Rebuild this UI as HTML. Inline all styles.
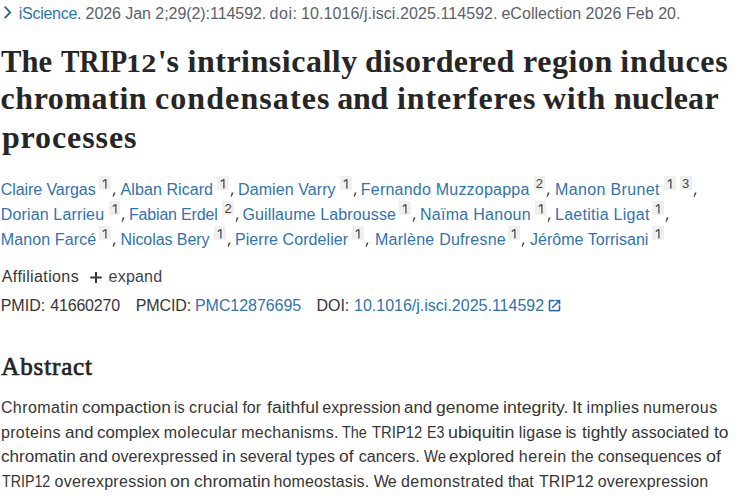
<!DOCTYPE html>
<html><head><meta charset="utf-8"><title>TRIP12 - PubMed</title>
<style>
html,body{margin:0;padding:0;background:#fff;}
body{width:750px;height:500px;overflow:hidden;position:relative;font-family:'Liberation Sans', sans-serif;color:#212121;}
.l{position:absolute;white-space:nowrap;}
.sup{position:absolute;width:11.7px;height:13.8px;background:#efefef;color:#444;font-size:13px;line-height:16.4px;text-align:center;font-family:'Liberation Sans', sans-serif;}
.cm{font-size:16px;color:#444;}
</style></head><body>
<div class="l" style="left:18.80px;top:1.75px;line-height:24px;color:#3073b1;font-family:'Liberation Sans', sans-serif;font-size:16px;letter-spacing:-0.275px;">iScience.</div>
<div class="l" style="left:85.60px;top:1.75px;line-height:24px;color:#5b616b;font-family:'Liberation Sans', sans-serif;font-size:16px;letter-spacing:-0.061px;">2026 Jan 2;29(2):114592.</div>
<div class="l" style="left:269.40px;top:1.75px;line-height:24px;color:#5b616b;font-family:'Liberation Sans', sans-serif;font-size:16px;letter-spacing:0.600px;">doi:</div>
<div class="l" style="left:301.00px;top:1.75px;line-height:24px;color:#5b616b;font-family:'Liberation Sans', sans-serif;font-size:16px;letter-spacing:0.077px;">10.1016/j.isci.2025.114592.</div>
<div class="l" style="left:501.40px;top:1.75px;line-height:24px;color:#5b616b;font-family:'Liberation Sans', sans-serif;font-size:16px;letter-spacing:0.052px;">eCollection 2026 Feb 20.</div>
<div class="l" style="left:1.10px;top:37.00px;line-height:48px;color:#262626;font-family:'Liberation Serif', serif;font-size:32px;font-weight:700;transform:scaleX(0.9566);transform-origin:0 0;">The</div>
<div class="l" style="left:61.00px;top:37.00px;line-height:48px;color:#262626;font-family:'Liberation Serif', serif;font-size:32px;font-weight:700;transform:scaleX(0.8645);transform-origin:0 0;">TRIP</div>
<div class="l" style="left:125.87px;top:43.53px;line-height:39px;color:#262626;font-family:'Liberation Serif', serif;font-size:26px;font-weight:700;transform:scaleX(1.1652);transform-origin:0 0;">12</div>
<div class="l" style="left:157.70px;top:37.00px;line-height:48px;color:#262626;font-family:'Liberation Serif', serif;font-size:32px;font-weight:700;">&#x27;s</div>
<div class="l" style="left:187.50px;top:37.00px;line-height:48px;color:#262626;font-family:'Liberation Serif', serif;font-size:32px;font-weight:700;letter-spacing:0.517px;">intrinsically</div>
<div class="l" style="left:365.00px;top:37.00px;line-height:48px;color:#262626;font-family:'Liberation Serif', serif;font-size:32px;font-weight:700;letter-spacing:0.267px;">disordered</div>
<div class="l" style="left:523.10px;top:37.00px;line-height:48px;color:#262626;font-family:'Liberation Serif', serif;font-size:32px;font-weight:700;letter-spacing:0.560px;">region</div>
<div class="l" style="left:620.30px;top:37.00px;line-height:48px;color:#262626;font-family:'Liberation Serif', serif;font-size:32px;font-weight:700;letter-spacing:0.700px;">induces</div>
<div class="l" style="left:0.60px;top:74.00px;line-height:48px;color:#262626;font-family:'Liberation Serif', serif;font-size:32px;font-weight:700;letter-spacing:0.550px;">chromatin</div>
<div class="l" style="left:155.00px;top:74.00px;line-height:48px;color:#262626;font-family:'Liberation Serif', serif;font-size:32px;font-weight:700;letter-spacing:1.080px;">condensates</div>
<div class="l" style="left:337.20px;top:74.00px;line-height:48px;color:#262626;font-family:'Liberation Serif', serif;font-size:32px;font-weight:700;letter-spacing:-0.300px;">and</div>
<div class="l" style="left:397.00px;top:74.00px;line-height:48px;color:#262626;font-family:'Liberation Serif', serif;font-size:32px;font-weight:700;letter-spacing:0.844px;">interferes</div>
<div class="l" style="left:543.00px;top:74.00px;line-height:48px;color:#262626;font-family:'Liberation Serif', serif;font-size:32px;font-weight:700;letter-spacing:0.600px;">with</div>
<div class="l" style="left:613.90px;top:74.00px;line-height:48px;color:#262626;font-family:'Liberation Serif', serif;font-size:32px;font-weight:700;letter-spacing:0.267px;">nuclear</div>
<div class="l" style="left:1.90px;top:112.80px;line-height:48px;color:#262626;font-family:'Liberation Serif', serif;font-size:32px;font-weight:700;letter-spacing:0.900px;">processes</div>
<div class="l" style="left:0.70px;top:177.65px;line-height:24px;color:#3073b1;font-family:'Liberation Sans', sans-serif;font-size:16px;letter-spacing:-0.067px;">Claire Vargas</div>
<div class="l" style="left:120.60px;top:177.65px;line-height:24px;color:#3073b1;font-family:'Liberation Sans', sans-serif;font-size:16px;letter-spacing:0.073px;">Alban Ricard</div>
<div class="l" style="left:238.00px;top:177.65px;line-height:24px;color:#3073b1;font-family:'Liberation Sans', sans-serif;font-size:16px;letter-spacing:0.091px;">Damien Varry</div>
<div class="l" style="left:360.80px;top:177.65px;line-height:24px;color:#3073b1;font-family:'Liberation Sans', sans-serif;font-size:16px;letter-spacing:0.222px;">Fernando Muzzopappa</div>
<div class="l" style="left:555.00px;top:177.65px;line-height:24px;color:#3073b1;font-family:'Liberation Sans', sans-serif;font-size:16px;letter-spacing:0.364px;">Manon Brunet</div>
<div class="l" style="left:0.70px;top:202.55px;line-height:24px;color:#3073b1;font-family:'Liberation Sans', sans-serif;font-size:16px;letter-spacing:0.154px;">Dorian Larrieu</div>
<div class="l" style="left:129.00px;top:202.55px;line-height:24px;color:#3073b1;font-family:'Liberation Sans', sans-serif;font-size:16px;letter-spacing:-0.182px;">Fabian Erdel</div>
<div class="l" style="left:242.40px;top:202.55px;line-height:24px;color:#3073b1;font-family:'Liberation Sans', sans-serif;font-size:16px;letter-spacing:0.133px;">Guillaume Labrousse</div>
<div class="l" style="left:420.00px;top:202.55px;line-height:24px;color:#3073b1;font-family:'Liberation Sans', sans-serif;font-size:16px;letter-spacing:0.273px;">Naïma Hanoun</div>
<div class="l" style="left:555.00px;top:202.55px;line-height:24px;color:#3073b1;font-family:'Liberation Sans', sans-serif;font-size:16px;letter-spacing:0.277px;">Laetitia Ligat</div>
<div class="l" style="left:0.70px;top:227.55px;line-height:24px;color:#3073b1;font-family:'Liberation Sans', sans-serif;font-size:16px;letter-spacing:0.120px;">Manon Farcé</div>
<div class="l" style="left:120.40px;top:227.55px;line-height:24px;color:#3073b1;font-family:'Liberation Sans', sans-serif;font-size:16px;letter-spacing:-0.055px;">Nicolas Bery</div>
<div class="l" style="left:235.00px;top:227.55px;line-height:24px;color:#3073b1;font-family:'Liberation Sans', sans-serif;font-size:16px;letter-spacing:0.067px;">Pierre Cordelier</div>
<div class="l" style="left:375.00px;top:227.55px;line-height:24px;color:#3073b1;font-family:'Liberation Sans', sans-serif;font-size:16px;letter-spacing:0.240px;">Marlène Dufresne</div>
<div class="l" style="left:530.00px;top:227.55px;line-height:24px;color:#3073b1;font-family:'Liberation Sans', sans-serif;font-size:16px;letter-spacing:0.027px;">Jérôme Torrisani</div>
<div class="l" style="left:1.80px;top:264.85px;line-height:24px;color:#363636;font-family:'Liberation Sans', sans-serif;font-size:16px;letter-spacing:0.382px;">Affiliations</div>
<div class="l" style="left:108.60px;top:264.85px;line-height:24px;color:#3d4551;font-family:'Liberation Sans', sans-serif;font-size:16px;letter-spacing:0.200px;">expand</div>
<div class="l" style="left:0.70px;top:294.05px;line-height:24px;color:#363636;font-family:'Liberation Sans', sans-serif;font-size:16px;">PMID:</div>
<div class="l" style="left:50.30px;top:294.05px;line-height:24px;color:#363636;font-family:'Liberation Sans', sans-serif;font-size:16px;letter-spacing:-0.200px;">41660270</div>
<div class="l" style="left:135.70px;top:294.05px;line-height:24px;color:#363636;font-family:'Liberation Sans', sans-serif;font-size:16px;letter-spacing:-0.080px;">PMCID:</div>
<div class="l" style="left:195.00px;top:294.05px;line-height:24px;color:#3073b1;font-family:'Liberation Sans', sans-serif;font-size:16px;letter-spacing:-0.060px;">PMC12876695</div>
<div class="l" style="left:316.60px;top:294.05px;line-height:24px;color:#363636;font-family:'Liberation Sans', sans-serif;font-size:16px;letter-spacing:-0.067px;">DOI:</div>
<div class="l" style="left:354.00px;top:294.05px;line-height:24px;color:#3073b1;font-family:'Liberation Sans', sans-serif;font-size:16px;">10.1016/j.isci.2025.114592</div>
<div class="l" style="left:1.30px;top:347.56px;line-height:38px;color:#262626;font-family:'Liberation Serif', serif;font-size:25px;letter-spacing:0.857px;-webkit-text-stroke:0.7px #212121;">Abstract</div>
<div class="l" style="left:0.90px;top:395.75px;line-height:24px;color:#363636;font-family:'Liberation Sans', sans-serif;font-size:16px;letter-spacing:0.425px;">Chromatin</div>
<div class="l" style="left:81.61px;top:395.75px;line-height:24px;color:#363636;font-family:'Liberation Sans', sans-serif;font-size:16px;transform:scaleX(1.0862);transform-origin:0 0;">compaction</div>
<div class="l" style="left:174.28px;top:395.75px;line-height:24px;color:#363636;font-family:'Liberation Sans', sans-serif;font-size:16px;transform:scaleX(0.9200);transform-origin:0 0;">is</div>
<div class="l" style="left:189.00px;top:395.75px;line-height:24px;color:#363636;font-family:'Liberation Sans', sans-serif;font-size:16px;letter-spacing:0.467px;">crucial</div>
<div class="l" style="left:242.50px;top:395.75px;line-height:24px;color:#363636;font-family:'Liberation Sans', sans-serif;font-size:16px;letter-spacing:-0.100px;">for</div>
<div class="l" style="left:267.00px;top:395.75px;line-height:24px;color:#363636;font-family:'Liberation Sans', sans-serif;font-size:16px;transform:scaleX(1.1000);transform-origin:0 0;">faithful</div>
<div class="l" style="left:322.20px;top:395.75px;line-height:24px;color:#363636;font-family:'Liberation Sans', sans-serif;font-size:16px;letter-spacing:0.133px;">expression</div>
<div class="l" style="left:404.34px;top:395.75px;line-height:24px;color:#363636;font-family:'Liberation Sans', sans-serif;font-size:16px;transform:scaleX(1.0560);transform-origin:0 0;">and</div>
<div class="l" style="left:436.31px;top:395.75px;line-height:24px;color:#363636;font-family:'Liberation Sans', sans-serif;font-size:16px;transform:scaleX(1.0929);transform-origin:0 0;">genome</div>
<div class="l" style="left:503.09px;top:395.75px;line-height:24px;color:#363636;font-family:'Liberation Sans', sans-serif;font-size:16px;transform:scaleX(1.1053);transform-origin:0 0;">integrity.</div>
<div class="l" style="left:571.66px;top:395.75px;line-height:24px;color:#363636;font-family:'Liberation Sans', sans-serif;font-size:16px;transform:scaleX(1.1375);transform-origin:0 0;">It</div>
<div class="l" style="left:586.50px;top:395.75px;line-height:24px;color:#363636;font-family:'Liberation Sans', sans-serif;font-size:16px;letter-spacing:0.467px;">implies</div>
<div class="l" style="left:643.00px;top:395.75px;line-height:24px;color:#363636;font-family:'Liberation Sans', sans-serif;font-size:16px;letter-spacing:0.429px;">numerous</div>
<div class="l" style="left:0.90px;top:420.55px;line-height:24px;color:#363636;font-family:'Liberation Sans', sans-serif;font-size:16px;letter-spacing:0.371px;">proteins</div>
<div class="l" style="left:64.73px;top:420.55px;line-height:24px;color:#363636;font-family:'Liberation Sans', sans-serif;font-size:16px;transform:scaleX(1.0680);transform-origin:0 0;">and</div>
<div class="l" style="left:97.05px;top:420.55px;line-height:24px;color:#363636;font-family:'Liberation Sans', sans-serif;font-size:16px;transform:scaleX(1.0534);transform-origin:0 0;">complex</div>
<div class="l" style="left:163.80px;top:420.55px;line-height:24px;color:#363636;font-family:'Liberation Sans', sans-serif;font-size:16px;letter-spacing:0.450px;">molecular</div>
<div class="l" style="left:241.20px;top:420.55px;line-height:24px;color:#363636;font-family:'Liberation Sans', sans-serif;font-size:16px;letter-spacing:0.300px;">mechanisms.</div>
<div class="l" style="left:342.30px;top:420.55px;line-height:24px;color:#363636;font-family:'Liberation Sans', sans-serif;font-size:16px;transform:scaleX(0.9037);transform-origin:0 0;">The</div>
<div class="l" style="left:372.30px;top:420.55px;line-height:24px;color:#363636;font-family:'Liberation Sans', sans-serif;font-size:16px;transform:scaleX(0.9278);transform-origin:0 0;">TRIP12</div>
<div class="l" style="left:427.11px;top:420.55px;line-height:24px;color:#363636;font-family:'Liberation Sans', sans-serif;font-size:16px;transform:scaleX(0.8889);transform-origin:0 0;">E3</div>
<div class="l" style="left:448.49px;top:420.55px;line-height:24px;color:#363636;font-family:'Liberation Sans', sans-serif;font-size:16px;transform:scaleX(1.1138);transform-origin:0 0;">ubiquitin</div>
<div class="l" style="left:518.80px;top:420.55px;line-height:24px;color:#363636;font-family:'Liberation Sans', sans-serif;font-size:16px;letter-spacing:0.200px;">ligase</div>
<div class="l" style="left:565.40px;top:420.55px;line-height:24px;color:#363636;font-family:'Liberation Sans', sans-serif;font-size:16px;letter-spacing:-0.800px;">is</div>
<div class="l" style="left:581.60px;top:420.55px;line-height:24px;color:#363636;font-family:'Liberation Sans', sans-serif;font-size:16px;transform:scaleX(1.0810);transform-origin:0 0;">tightly</div>
<div class="l" style="left:631.60px;top:420.55px;line-height:24px;color:#363636;font-family:'Liberation Sans', sans-serif;font-size:16px;letter-spacing:0.111px;">associated</div>
<div class="l" style="left:714.20px;top:420.55px;line-height:24px;color:#363636;font-family:'Liberation Sans', sans-serif;font-size:16px;transform:scaleX(1.0846);transform-origin:0 0;">to</div>
<div class="l" style="left:0.84px;top:445.35px;line-height:24px;color:#363636;font-family:'Liberation Sans', sans-serif;font-size:16px;transform:scaleX(1.0647);transform-origin:0 0;">chromatin</div>
<div class="l" style="left:78.82px;top:445.35px;line-height:24px;color:#363636;font-family:'Liberation Sans', sans-serif;font-size:16px;transform:scaleX(1.0760);transform-origin:0 0;">and</div>
<div class="l" style="left:111.40px;top:445.35px;line-height:24px;color:#363636;font-family:'Liberation Sans', sans-serif;font-size:16px;letter-spacing:0.133px;">overexpressed</div>
<div class="l" style="left:221.68px;top:445.35px;line-height:24px;color:#363636;font-family:'Liberation Sans', sans-serif;font-size:16px;transform:scaleX(1.1182);transform-origin:0 0;">in</div>
<div class="l" style="left:239.70px;top:445.35px;line-height:24px;color:#363636;font-family:'Liberation Sans', sans-serif;font-size:16px;letter-spacing:0.100px;">several</div>
<div class="l" style="left:296.10px;top:445.35px;line-height:24px;color:#363636;font-family:'Liberation Sans', sans-serif;font-size:16px;letter-spacing:0.150px;">types</div>
<div class="l" style="left:338.92px;top:445.35px;line-height:24px;color:#363636;font-family:'Liberation Sans', sans-serif;font-size:16px;transform:scaleX(1.0846);transform-origin:0 0;">of</div>
<div class="l" style="left:358.70px;top:445.35px;line-height:24px;color:#363636;font-family:'Liberation Sans', sans-serif;font-size:16px;letter-spacing:0.086px;">cancers.</div>
<div class="l" style="left:423.60px;top:445.35px;line-height:24px;color:#363636;font-family:'Liberation Sans', sans-serif;font-size:16px;transform:scaleX(0.9261);transform-origin:0 0;">We</div>
<div class="l" style="left:449.44px;top:445.35px;line-height:24px;color:#363636;font-family:'Liberation Sans', sans-serif;font-size:16px;transform:scaleX(1.0617);transform-origin:0 0;">explored</div>
<div class="l" style="left:518.80px;top:445.35px;line-height:24px;color:#363636;font-family:'Liberation Sans', sans-serif;font-size:16px;letter-spacing:0.600px;">herein</div>
<div class="l" style="left:570.90px;top:445.35px;line-height:24px;color:#363636;font-family:'Liberation Sans', sans-serif;font-size:16px;letter-spacing:0.300px;">the</div>
<div class="l" style="left:597.80px;top:445.35px;line-height:24px;color:#363636;font-family:'Liberation Sans', sans-serif;font-size:16px;letter-spacing:0.055px;">consequences</div>
<div class="l" style="left:705.58px;top:445.35px;line-height:24px;color:#363636;font-family:'Liberation Sans', sans-serif;font-size:16px;transform:scaleX(1.1154);transform-origin:0 0;">of</div>
<div class="l" style="left:1.90px;top:470.45px;line-height:24px;color:#363636;font-family:'Liberation Sans', sans-serif;font-size:16px;transform:scaleX(0.8889);transform-origin:0 0;">TRIP12</div>
<div class="l" style="left:54.50px;top:470.45px;line-height:24px;color:#363636;font-family:'Liberation Sans', sans-serif;font-size:16px;letter-spacing:0.277px;">overexpression</div>
<div class="l" style="left:170.28px;top:470.45px;line-height:24px;color:#363636;font-family:'Liberation Sans', sans-serif;font-size:16px;transform:scaleX(1.1188);transform-origin:0 0;">on</div>
<div class="l" style="left:193.81px;top:470.45px;line-height:24px;color:#363636;font-family:'Liberation Sans', sans-serif;font-size:16px;transform:scaleX(1.0882);transform-origin:0 0;">chromatin</div>
<div class="l" style="left:273.50px;top:470.45px;line-height:24px;color:#363636;font-family:'Liberation Sans', sans-serif;font-size:16px;letter-spacing:0.127px;">homeostasis.</div>
<div class="l" style="left:373.80px;top:470.45px;line-height:24px;color:#363636;font-family:'Liberation Sans', sans-serif;font-size:16px;letter-spacing:-0.800px;">We</div>
<div class="l" style="left:401.00px;top:470.45px;line-height:24px;color:#363636;font-family:'Liberation Sans', sans-serif;font-size:16px;letter-spacing:0.418px;">demonstrated</div>
<div class="l" style="left:507.90px;top:470.45px;line-height:24px;color:#363636;font-family:'Liberation Sans', sans-serif;font-size:16px;letter-spacing:-0.333px;">that</div>
<div class="l" style="left:539.00px;top:470.45px;line-height:24px;color:#363636;font-family:'Liberation Sans', sans-serif;font-size:16px;letter-spacing:0.080px;">TRIP12</div>
<div class="l" style="left:597.80px;top:470.45px;line-height:24px;color:#363636;font-family:'Liberation Sans', sans-serif;font-size:16px;letter-spacing:0.138px;">overexpression</div>
<div class="l" style="left:0.80px;top:495.45px;line-height:24px;color:#363636;font-family:'Liberation Sans', sans-serif;font-size:16px;letter-spacing:0.330px;">leads to a global chromatin compaction that is dependent on its intrinsically disordered region.</div>
<svg style="position:absolute;left:0;top:0" width="20" height="26" viewBox="0 0 20 26"><polyline points="4.7,6.7 10.2,12.4 4.7,18.1" fill="none" stroke="#235f9c" stroke-width="1.8"/></svg>
<svg style="position:absolute;left:90.3px;top:272px" width="12" height="11" viewBox="0 0 12 11"><path d="M0.3 5.5H11.7M6 0V11" stroke="#3a3a3a" stroke-width="2" fill="none"/></svg>
<svg style="position:absolute;left:547.2px;top:298px" width="15" height="15" viewBox="0 0 24 24"><path fill="#2767a8" stroke="#2767a8" stroke-width="0.5" d="M19 19H5V5h7V3H5c-1.11 0-2 .9-2 2v14c0 1.1.89 2 2 2h14c1.1 0 2-.9 2-2v-7h-2v7zM14 3v2h3.59l-9.83 9.83 1.41 1.41L19 6.41V10h2V3h-7z"/></svg>
<div class="sup" style="left:99.2px;top:176.2px"><svg width="11.7" height="13.8" viewBox="0 0 11.7 13.8" style="display:block"><path d="M6.9 3.2V12.4M6.7 3.5L3.8 5.6" stroke="#444" stroke-width="1.25" fill="none"/></svg></div>
<svg style="position:absolute;left:111.9px;top:192.1px" width="5" height="6" viewBox="0 0 5 6"><polygon points="1.7,0.5 3.6,0.5 1.7,4.7 0.6,4.7" fill="#4a4a4a"/></svg>
<div class="sup" style="left:217.0px;top:176.2px"><svg width="11.7" height="13.8" viewBox="0 0 11.7 13.8" style="display:block"><path d="M6.9 3.2V12.4M6.7 3.5L3.8 5.6" stroke="#444" stroke-width="1.25" fill="none"/></svg></div>
<svg style="position:absolute;left:229.7px;top:192.1px" width="5" height="6" viewBox="0 0 5 6"><polygon points="1.7,0.5 3.6,0.5 1.7,4.7 0.6,4.7" fill="#4a4a4a"/></svg>
<div class="sup" style="left:340.0px;top:176.2px"><svg width="11.7" height="13.8" viewBox="0 0 11.7 13.8" style="display:block"><path d="M6.9 3.2V12.4M6.7 3.5L3.8 5.6" stroke="#444" stroke-width="1.25" fill="none"/></svg></div>
<svg style="position:absolute;left:352.7px;top:192.1px" width="5" height="6" viewBox="0 0 5 6"><polygon points="1.7,0.5 3.6,0.5 1.7,4.7 0.6,4.7" fill="#4a4a4a"/></svg>
<div class="sup" style="left:533.5px;top:176.2px">2</div>
<svg style="position:absolute;left:546.2px;top:192.1px" width="5" height="6" viewBox="0 0 5 6"><polygon points="1.7,0.5 3.6,0.5 1.7,4.7 0.6,4.7" fill="#4a4a4a"/></svg>
<div class="sup" style="left:664.0px;top:176.2px"><svg width="11.7" height="13.8" viewBox="0 0 11.7 13.8" style="display:block"><path d="M6.9 3.2V12.4M6.7 3.5L3.8 5.6" stroke="#444" stroke-width="1.25" fill="none"/></svg></div>
<div class="sup" style="left:679.9px;top:176.2px">3</div>
<svg style="position:absolute;left:692.6px;top:192.1px" width="5" height="6" viewBox="0 0 5 6"><polygon points="1.7,0.5 3.6,0.5 1.7,4.7 0.6,4.7" fill="#4a4a4a"/></svg>
<div class="sup" style="left:108.5px;top:201.1px"><svg width="11.7" height="13.8" viewBox="0 0 11.7 13.8" style="display:block"><path d="M6.9 3.2V12.4M6.7 3.5L3.8 5.6" stroke="#444" stroke-width="1.25" fill="none"/></svg></div>
<svg style="position:absolute;left:121.2px;top:217.0px" width="5" height="6" viewBox="0 0 5 6"><polygon points="1.7,0.5 3.6,0.5 1.7,4.7 0.6,4.7" fill="#4a4a4a"/></svg>
<div class="sup" style="left:222.4px;top:201.1px">2</div>
<svg style="position:absolute;left:235.1px;top:217.0px" width="5" height="6" viewBox="0 0 5 6"><polygon points="1.7,0.5 3.6,0.5 1.7,4.7 0.6,4.7" fill="#4a4a4a"/></svg>
<div class="sup" style="left:399.0px;top:201.1px"><svg width="11.7" height="13.8" viewBox="0 0 11.7 13.8" style="display:block"><path d="M6.9 3.2V12.4M6.7 3.5L3.8 5.6" stroke="#444" stroke-width="1.25" fill="none"/></svg></div>
<svg style="position:absolute;left:411.7px;top:217.0px" width="5" height="6" viewBox="0 0 5 6"><polygon points="1.7,0.5 3.6,0.5 1.7,4.7 0.6,4.7" fill="#4a4a4a"/></svg>
<div class="sup" style="left:534.5px;top:201.1px"><svg width="11.7" height="13.8" viewBox="0 0 11.7 13.8" style="display:block"><path d="M6.9 3.2V12.4M6.7 3.5L3.8 5.6" stroke="#444" stroke-width="1.25" fill="none"/></svg></div>
<svg style="position:absolute;left:547.2px;top:217.0px" width="5" height="6" viewBox="0 0 5 6"><polygon points="1.7,0.5 3.6,0.5 1.7,4.7 0.6,4.7" fill="#4a4a4a"/></svg>
<div class="sup" style="left:652.0px;top:201.1px"><svg width="11.7" height="13.8" viewBox="0 0 11.7 13.8" style="display:block"><path d="M6.9 3.2V12.4M6.7 3.5L3.8 5.6" stroke="#444" stroke-width="1.25" fill="none"/></svg></div>
<svg style="position:absolute;left:664.7px;top:217.0px" width="5" height="6" viewBox="0 0 5 6"><polygon points="1.7,0.5 3.6,0.5 1.7,4.7 0.6,4.7" fill="#4a4a4a"/></svg>
<div class="sup" style="left:99.2px;top:226.1px"><svg width="11.7" height="13.8" viewBox="0 0 11.7 13.8" style="display:block"><path d="M6.9 3.2V12.4M6.7 3.5L3.8 5.6" stroke="#444" stroke-width="1.25" fill="none"/></svg></div>
<svg style="position:absolute;left:111.9px;top:242.0px" width="5" height="6" viewBox="0 0 5 6"><polygon points="1.7,0.5 3.6,0.5 1.7,4.7 0.6,4.7" fill="#4a4a4a"/></svg>
<div class="sup" style="left:214.0px;top:226.1px"><svg width="11.7" height="13.8" viewBox="0 0 11.7 13.8" style="display:block"><path d="M6.9 3.2V12.4M6.7 3.5L3.8 5.6" stroke="#444" stroke-width="1.25" fill="none"/></svg></div>
<svg style="position:absolute;left:226.7px;top:242.0px" width="5" height="6" viewBox="0 0 5 6"><polygon points="1.7,0.5 3.6,0.5 1.7,4.7 0.6,4.7" fill="#4a4a4a"/></svg>
<div class="sup" style="left:352.4px;top:226.1px"><svg width="11.7" height="13.8" viewBox="0 0 11.7 13.8" style="display:block"><path d="M6.9 3.2V12.4M6.7 3.5L3.8 5.6" stroke="#444" stroke-width="1.25" fill="none"/></svg></div>
<svg style="position:absolute;left:365.1px;top:242.0px" width="5" height="6" viewBox="0 0 5 6"><polygon points="1.7,0.5 3.6,0.5 1.7,4.7 0.6,4.7" fill="#4a4a4a"/></svg>
<div class="sup" style="left:508.0px;top:226.1px"><svg width="11.7" height="13.8" viewBox="0 0 11.7 13.8" style="display:block"><path d="M6.9 3.2V12.4M6.7 3.5L3.8 5.6" stroke="#444" stroke-width="1.25" fill="none"/></svg></div>
<svg style="position:absolute;left:520.7px;top:242.0px" width="5" height="6" viewBox="0 0 5 6"><polygon points="1.7,0.5 3.6,0.5 1.7,4.7 0.6,4.7" fill="#4a4a4a"/></svg>
<div class="sup" style="left:652.0px;top:226.1px"><svg width="11.7" height="13.8" viewBox="0 0 11.7 13.8" style="display:block"><path d="M6.9 3.2V12.4M6.7 3.5L3.8 5.6" stroke="#444" stroke-width="1.25" fill="none"/></svg></div>
</body></html>
